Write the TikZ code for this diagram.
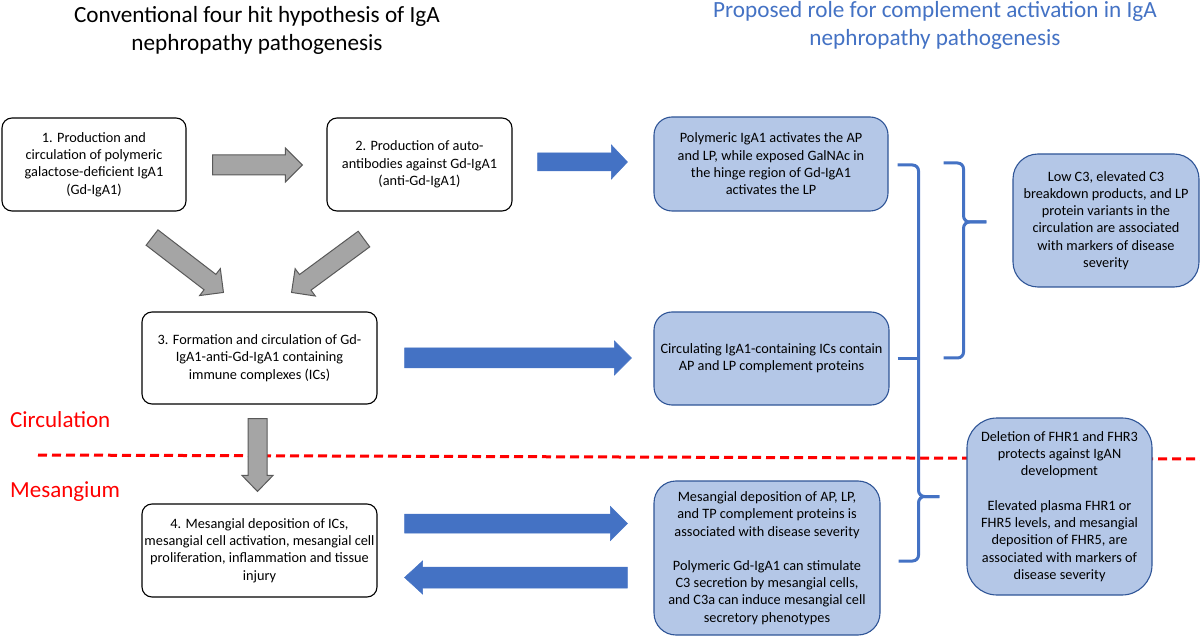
\documentclass[tikz,border=0pt]{standalone}
\usepackage{fontspec}
\setmainfont{Carlito}
\usetikzlibrary{calc}

\definecolor{boxblue}{HTML}{B4C7E7}
\definecolor{edgeblue}{HTML}{2F5597}
\definecolor{arrowblue}{HTML}{4472C4}
\definecolor{arrowgrey}{HTML}{A5A5A5}
\definecolor{edgegrey}{HTML}{595959}

\newcommand{\hitfont}{\fontsize{14.3pt}{17.3pt}\selectfont}
% style, from, to, half shaft, half head, head length
\newcommand{\blockarrow}[6]{%
  \coordinate (hb) at ($(#3)!#6!(#2)$);
  \draw[#1] ($(#2)!#4!90:(#3)$) -- ($(hb)!#4!90:(#3)$) -- ($(hb)!#5!90:(#3)$) -- (#3)
    -- ($(hb)!#5!-90:(#3)$) -- ($(hb)!#4!-90:(#3)$) -- ($(#2)!#4!-90:(#3)$) -- cycle;
}

\tikzset{
  hitbox/.style={draw, line width=1.1pt, rounded corners=10pt, align=center,
    font=\hitfont, inner sep=2pt},
  rolebox/.style={draw=edgeblue, fill=boxblue, line width=1.1pt, align=center,
    font=\hitfont, inner sep=2pt},
  titletext/.style={align=center, inner sep=0pt, font=\fontsize{23.2pt}{28.5pt}\selectfont},
  zonetext/.style={text=red, inner sep=0pt, font=\fontsize{23pt}{26pt}\selectfont},
  greyarrow/.style={fill=arrowgrey, draw=edgegrey, line width=1pt},
  bluearrow/.style={fill=arrowblue, draw=arrowblue, line width=.5pt},
  brace/.style={draw=arrowblue, line width=3pt, rounded corners=6pt},
}

\begin{document}
\begin{tikzpicture}[x=1pt, y=-1pt]
    \useasboundingbox (0, 0) rectangle (1200, 636);

    \node[titletext] (tl) at (257, 30.5) {Conventional four hit hypothesis of IgA\\nephropathy pathogenesis};
    \node[titletext, text=arrowblue] (tr) at (935, 25.5) {Proposed role for complement activation in IgA\\nephropathy pathogenesis};

    % circulation / mesangium
    \draw[red, line width=3pt, dash pattern=on 9pt off 5pt] (38, 455) -- (1200, 459);
    \node[zonetext, anchor=base west] (circ) at (10, 428) {Circulation};
    \node[zonetext, anchor=base west] (mes) at (10, 497) {Mesangium};

    % four hits
    \node[hitbox, minimum width=184pt, minimum height=93pt] (p1) at (94, 164.5)
        {1. Production and\\circulation of polymeric\\galactose-deficient IgA1\\(Gd-IgA1)};
    \node[hitbox, minimum width=185pt, minimum height=93pt] (p2) at (419.5, 164.5)
        {2. Production of auto-\\antibodies against Gd-IgA1\\(anti-Gd-IgA1)};
    \node[hitbox, minimum width=235pt, minimum height=92pt] (p3) at (259.5, 358)
        {3. Formation and circulation of Gd-\\IgA1-anti-Gd-IgA1 containing\\immune complexes (ICs)};
    \node[hitbox, minimum width=235pt, minimum height=93pt] (p4) at (259.5, 550.5)
        {4. Mesangial deposition of ICs,\\mesangial cell activation, mesangial cell\\proliferation, inflammation and tissue\\injury};

    % complement
    \node[rolebox, rounded corners=18pt, minimum width=234pt, minimum height=94pt] (pA) at (771, 164)
        {Polymeric IgA1 activates the AP\\and LP, while exposed GalNAc in\\the hinge region of Gd-IgA1\\activates the LP};
    \node[rolebox, rounded corners=18pt, minimum width=235pt, minimum height=93pt] (pB) at (771.5, 358.5)
        {Circulating IgA1-containing ICs contain\\AP and LP complement proteins};
    \node[rolebox, rounded corners=22pt, minimum width=226pt, minimum height=154pt] (pE) at (767, 558)
        {Mesangial deposition of AP, LP,\\and TP complement proteins is\\associated with disease severity\\[17pt]Polymeric Gd-IgA1 can stimulate\\C3 secretion by mesangial cells,\\and C3a can induce mesangial cell\\secretory phenotypes};
    \node[rolebox, rounded corners=25pt, minimum width=186pt, minimum height=133pt] (pC) at (1106, 220.5)
        {Low C3, elevated C3\\breakdown products, and LP\\protein variants in the\\circulation are associated\\with markers of disease\\severity};
    \node[rolebox, rounded corners=30pt, minimum width=185pt, minimum height=177pt] (pD) at (1059.5, 506.5)
        {Deletion of FHR1 and FHR3\\protects against IgAN\\development\\[17pt]Elevated plasma FHR1 or\\FHR5 levels, and mesangial\\deposition of FHR5, are\\associated with markers of\\disease severity};

    % braces
    \coordinate (bA) at ($(pA.east) + (9, 1)$);
    \coordinate (bB) at ($(pB.east) + (8, 0)$);
    \coordinate (bE) at ($(pE.east) + (18, 3)$);
    \coordinate (bT) at ($(pD.west) + (-27, -10)$);
    \coordinate (bx) at ($(bA) + (21, 0)$);
    \draw[brace] (bA) -- (bx) |- (bT);
    \draw[brace] (bT) -| (bx |- bE) -- (bE);
    \draw[brace] (bB) -- (bB -| bx);

    \coordinate (sA) at ($(pA.east) + (55, -1)$);
    \coordinate (sB) at ($(pB.east) + (54, -0.5)$);
    \coordinate (sT) at ($(pC.west) + (-26, 1.5)$);
    \coordinate (sx) at ($(sA) + (20, 0)$);
    \draw[brace] (sA) -- (sx) |- (sT);
    \draw[brace] (sT) -| (sx |- sB) -- (sB);

    % grey arrows
    \coordinate (g12s) at ($(p1.east) + (26, 0.5)$);
    \coordinate (g12e) at ($(p2.west) + (-24, 0.5)$);
    \coordinate (g13s) at ($(p1.south east) + (-34.5, 26)$);
    \coordinate (g13e) at ($(p3.north west) + (82, -19)$);
    \coordinate (g23s) at ($(p2.south west) + (37.5, 27.5)$);
    \coordinate (g23e) at ($(p3.north east) + (-86, -19)$);
    \coordinate (g34s) at ($(p3.south) + (-2, 14)$);
    \coordinate (g34e) at ($(p4.north) + (-2, -12)$);
    \blockarrow{greyarrow}{g12s}{g12e}{10pt}{17pt}{17pt}
    \blockarrow{greyarrow}{g13s}{g13e}{9.7pt}{17pt}{17pt}
    \blockarrow{greyarrow}{g23s}{g23e}{9.7pt}{17pt}{17pt}
    \blockarrow{greyarrow}{g34s}{g34e}{9.5pt}{15.5pt}{16pt}

    % blue arrows
    \coordinate (b1s) at ($(p2.east) + (25, -2.5)$);
    \coordinate (b1e) at ($(pA.west) + (-26, -2)$);
    \coordinate (b2s) at ($(p3.east) + (27, 0)$);
    \coordinate (b2e) at ($(pB.west) + (-22, -0.5)$);
    \coordinate (b3s) at ($(p4.east) + (27, -27)$);
    \coordinate (b3e) at ($(pE.west) + (-26, -34.5)$);
    \coordinate (b4s) at ($(pE.west) + (-26, 19.5)$);
    \coordinate (b4e) at ($(p4.east) + (27, 27)$);
    \blockarrow{bluearrow}{b1s}{b1e}{9pt}{17pt}{16pt}
    \blockarrow{bluearrow}{b2s}{b2e}{10pt}{17pt}{17pt}
    \blockarrow{bluearrow}{b3s}{b3e}{9.5pt}{17pt}{17pt}
    \blockarrow{bluearrow}{b4s}{b4e}{10.5pt}{16.5pt}{18pt}
\end{tikzpicture}
\end{document}
